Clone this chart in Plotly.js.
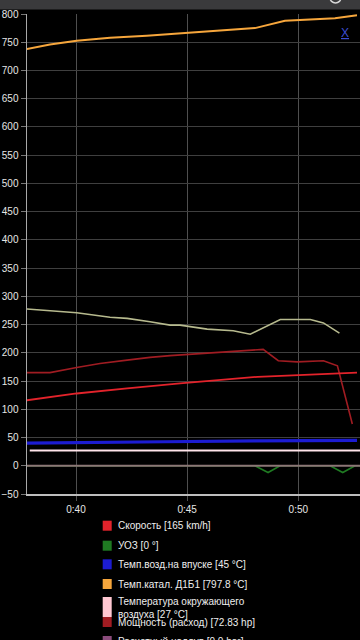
<!DOCTYPE html>
<html>
<head>
<meta charset="utf-8">
<script src="https://cdn.plot.ly/plotly-3.0.1.min.js"></script>
<style>
html,body{margin:0;padding:0;background:#000;}
#chart{width:360px;height:640px;}
</style>
</head>
<body>
<div id="chart"></div>
<script>
// ---- DATA (time in minutes) ----
const tickVals = [40, 45, 50];
const tickText = ['0:40', '0:45', '0:50'];

const timeSpeed = [37.79, 40.03, 42.3, 44.68, 48.17, 49.99, 52.64];
const speed     = [116, 128, 137, 146, 157.5, 161, 165];

const timeIgn = [37.79, 40, 42, 44, 46, 48.05, 48.64, 49.18, 50, 51.43, 52.0, 52.55, 52.78];
const ignition = [0, 0, 0, 0, 0, 0, -12, 0, 0, 0, -12, 0, 0];

const timeIntake = [37.79, 40, 44, 48, 52, 52.64];
const intakeTemp = [40, 40.5, 42.5, 44, 45, 45];

const timeCat = [37.79, 38.83, 40.03, 41.53, 43.18, 44.68, 48.05, 49.4, 51.65, 52.64];
const catTemp = [738, 746, 752.5, 758, 761.5, 765.5, 775, 788, 792.5, 797.8];

const timeAmbient = [37.92, 52.78];
const ambientTemp = [27, 27];

const timePower = [37.79, 38.83, 40.03, 41.08, 42.3, 43.33, 44.23, 47.25, 48.42, 49.1, 49.95, 51.13, 51.76, 52.43];
const power     = [165, 165, 174, 181, 187, 192, 195, 202, 206, 186, 184, 186, 177, 74];

const timeBoost = [37.79, 52.78];
const boost     = [0, 0];

const timeOther = [37.79, 40.03, 41.53, 42.3, 43.33, 44.23, 44.68, 45.9, 47.07, 47.84, 49.19, 50.54, 51.13, 51.85];
const other     = [277.6, 271, 263, 261, 255, 249, 249, 242, 239, 233, 259, 259, 253, 235];

const legendNames = [
  'Скорость [165 km/h]',
  'УОЗ [0 °]',
  'Темп.возд.на впуске [45 °C]',
  'Темп.катал. Д1Б1 [797.8 °C]',
  'Температура окружающего<br>воздуха [27 °C]',
  'Мощность (расход) [72.83 hp]',
  'Расчетный наддув [0.0 bar]'
];

// ---- STYLES / LAYOUT ----
const colors = ['#e3232b', '#1f7a22', '#1c1cd2', '#f6a63c', '#ffc8d2', '#a01c22', '#8b4c7c'];

const traces = [
  {x: timeOther, y: other, line: {color: '#b7ba8e', width: 1.6}},
  {x: timeIgn, y: ignition, line: {color: colors[1], width: 1.6}},
  {x: timeBoost, y: boost, line: {color: '#8c7676', width: 1.8}},
  {x: timeAmbient, y: ambientTemp, line: {color: '#ffe4ea', width: 2}},
  {x: timeIntake, y: intakeTemp, line: {color: colors[2], width: 3.2}},
  {x: timePower, y: power, line: {color: colors[5], width: 1.6}},
  {x: timeSpeed, y: speed, line: {color: colors[0], width: 1.8}},
  {x: timeCat, y: catTemp, line: {color: colors[3], width: 2}}
].map(t => Object.assign({type: 'scatter', mode: 'lines', hoverinfo: 'skip', showlegend: false}, t));

const L = 27, W = 333, T = 14, H = 480;
const px = v => (v - L) / W;
const py = v => (T + H - v) / H;

const rowY = [525.7, 545.7, 564.3, 584, 607, 622, 641];
const swH  = [10, 10, 10, 10, 20, 10, 10];

const shapes = [
  {type: 'rect', xref: 'paper', yref: 'paper', x0: px(0), x1: px(360), y0: py(9.5), y1: py(0),
   fillcolor: '#3a3a3c', line: {width: 0}, layer: 'above'},
  {type: 'circle', xref: 'paper', yref: 'paper', x0: px(330), x1: px(341), y0: py(3), y1: py(-8),
   fillcolor: 'rgba(0,0,0,0)', line: {color: '#d8d8d8', width: 1.5}, layer: 'above'}
];
const annotations = [
  {xref: 'paper', yref: 'paper', x: px(345), y: py(32.5), xanchor: 'center', yanchor: 'middle',
   text: '<span style="text-decoration:underline">X</span>', showarrow: false,
   font: {family: 'Liberation Sans, Arial, sans-serif', size: 12, color: '#3d4ed2'}}
];
legendNames.forEach((name, i) => {
  shapes.push({type: 'rect', xref: 'paper', yref: 'paper',
    x0: px(102.7), x1: px(111.7), y0: py(rowY[i] + swH[i] / 2), y1: py(rowY[i] - swH[i] / 2),
    fillcolor: colors[i], line: {width: 0}});
  annotations.push({xref: 'paper', yref: 'paper', x: px(116), y: py(rowY[i] + (i === 4 ? 1 : 0)),
    xanchor: 'left', yanchor: 'middle', align: 'left', text: name, showarrow: false,
    font: {family: 'Liberation Sans, Arial, sans-serif', size: 10, color: '#eeeeee'}});
});

const layout = {
  width: 360, height: 640,
  margin: {l: L, r: 0, t: T, b: 640 - T - H},
  paper_bgcolor: '#000', plot_bgcolor: '#000',
  font: {family: 'Liberation Sans, Arial, sans-serif', size: 10, color: '#e6e6e6'},
  xaxis: {
    range: [40 - 49 / 22.23, 40 + 284 / 22.23],
    tickvals: tickVals, ticktext: tickText,
    showgrid: true, gridcolor: '#4f4f4f', gridwidth: 1,
    ticks: 'outside', ticklen: 5, tickcolor: '#4f4f4f',
    showline: true, linecolor: '#bdbdbd', linewidth: 1.5,
    zeroline: false, fixedrange: true,
    tickfont: {size: 10, color: '#e6e6e6'}
  },
  yaxis: {
    range: [-50, 800], dtick: 50,
    showgrid: true, gridcolor: '#3f3f3f', gridwidth: 1,
    ticks: 'outside', ticklen: 5, tickcolor: '#777',
    showline: true, linecolor: '#a8a8a8', linewidth: 1.5,
    zeroline: false, fixedrange: true,
    tickfont: {size: 10, color: '#e6e6e6'}
  },
  shapes: shapes,
  annotations: annotations,
  showlegend: false
};

Plotly.newPlot('chart', traces, layout, {displayModeBar: false, staticPlot: true});
</script>
</body>
</html>
